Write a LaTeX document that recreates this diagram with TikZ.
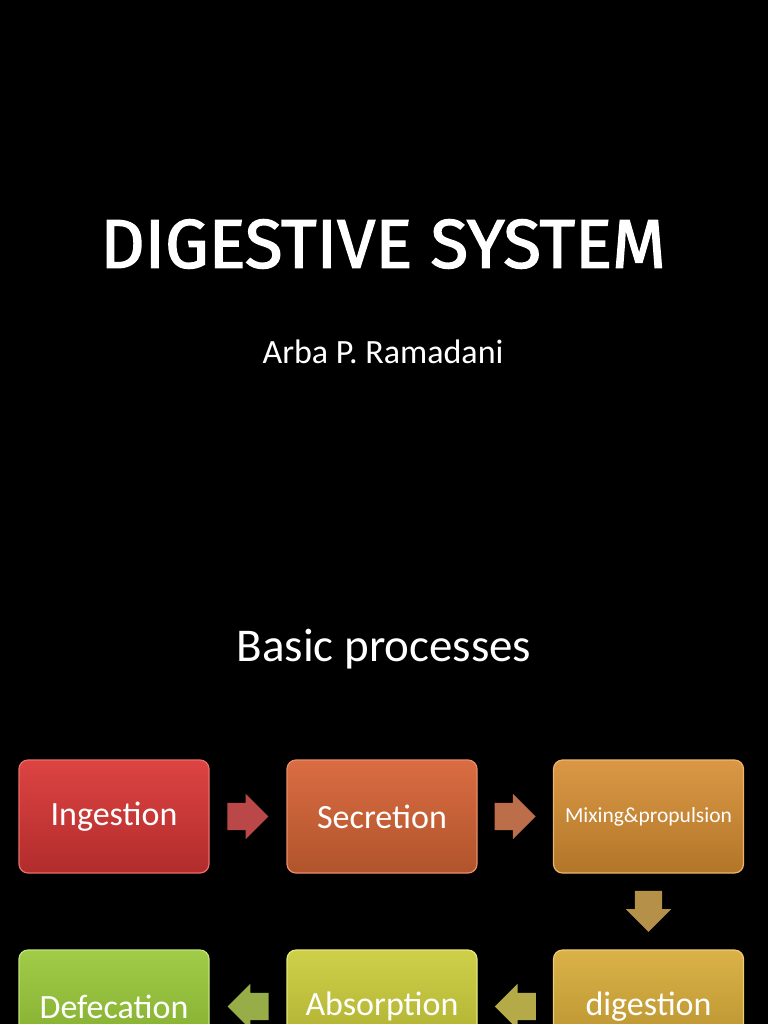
\documentclass[tikz,border=0pt]{standalone}
\usepackage{fontspec}
\setmainfont{Carlito}
\newfontfamily\titlefont[FakeBold=2]{Fira Sans}
\usetikzlibrary{shapes.arrows,calc}
\tikzset{
  box/.style={rounded corners=9pt, minimum width=190pt, minimum height=113pt,
    text=white, font=\fontsize{34}{38}\selectfont, line width=1.2pt, inner sep=0pt},
  blockarrow/.style={single arrow, minimum height=41pt, inner sep=13.5pt,
    single arrow head extend=9pt, draw=none, fill opacity=0.9},
}
\begin{document}
\begin{tikzpicture}[x=1pt,y=-1pt]
\fill[black] (0,0) rectangle (768,1024);
\useasboundingbox (0,0) rectangle (768,1024);
\clip (0,0) rectangle (768,1024);
\node[text=white, font=\titlefont\fontsize{69}{73}\selectfont] (title) at (383,244) {DIGESTIVE SYSTEM};
\node[text=white, font=\fontsize{34}{38}\selectfont] (author) at (383,352) {Arba P. Ramadani};
\node[text=white, font=\fontsize{47}{52}\selectfont] (basic) at (384,649) {Basic processes};

\node[box, top color={rgb,255:red,220;green,68;blue,66}, bottom color={rgb,255:red,178;green,44;blue,44}, draw={rgb,255:red,235;green,110;blue,105}] (ing) at (114,816.5) {Ingestion};
\node[box, top color={rgb,255:red,218;green,108;blue,66}, bottom color={rgb,255:red,176;green,84;blue,44}, draw={rgb,255:red,235;green,140;blue,105}] (sec) at (382,816.5) {Secretion};
\node[box, top color={rgb,255:red,218;green,152;blue,70}, bottom color={rgb,255:red,178;green,118;blue,40}, draw={rgb,255:red,238;green,180;blue,110}, font=\fontsize{21.5}{24}\selectfont] (mix) at (648.5,816.5) {Mixing\&propulsion};
\node[box, top color={rgb,255:red,218;green,178;blue,72}, bottom color={rgb,255:red,180;green,142;blue,44}, draw={rgb,255:red,240;green,205;blue,115}] (dig) at (648.5,1006.5) {digestion};
\node[box, top color={rgb,255:red,206;green,208;blue,74}, bottom color={rgb,255:red,170;green,170;blue,44}, draw={rgb,255:red,230;green,232;blue,120}] (abs) at (382,1006.5) {Absorption};
\node[box, top color={rgb,255:red,160;green,204;blue,72}, bottom color={rgb,255:red,128;green,168;blue,44}, draw={rgb,255:red,195;green,228;blue,120}] (def) at (114,1006.5) {Defecation};

\node[blockarrow, xshift=-7pt, fill={rgb,255:red,208;green,80;blue,80}] (a1) at ($(ing.east)!0.5!(sec.west)$) {};
\node[blockarrow, xshift=-7pt, fill={rgb,255:red,208;green,122;blue,82}] (a2) at ($(sec.east)!0.5!(mix.west)$) {};
\node[blockarrow, yshift=7pt, shape border rotate=270, fill={rgb,255:red,200;green,160;blue,80}] (a3) at ($(mix.south)!0.5!(dig.north)$) {};
\node[blockarrow, xshift=7pt, shape border rotate=180, fill={rgb,255:red,200;green,190;blue,80}] (a4) at ($(dig.west)!0.5!(abs.east)$) {};
\node[blockarrow, xshift=7pt, shape border rotate=180, fill={rgb,255:red,168;green,192;blue,80}] (a5) at ($(abs.west)!0.5!(def.east)$) {};
\end{tikzpicture}
\end{document}
